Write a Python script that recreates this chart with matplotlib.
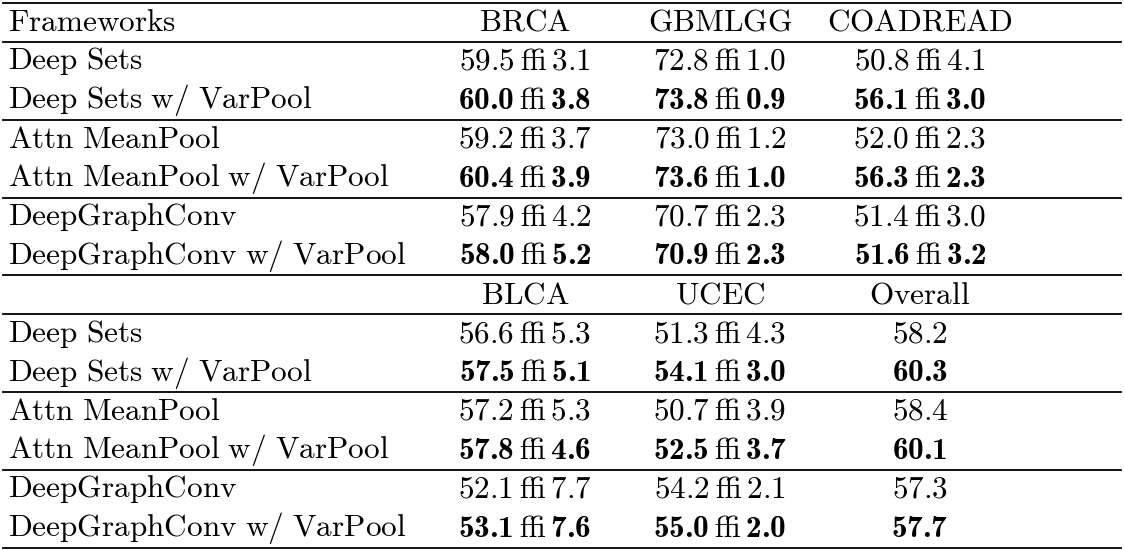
import matplotlib
matplotlib.use('Agg')
import matplotlib.pyplot as plt

plt.rcParams['mathtext.fontset'] = 'custom'
plt.rcParams['mathtext.rm'] = 'cmr10'
plt.rcParams['mathtext.bf'] = 'cmb10'
plt.rcParams['mathtext.it'] = 'cmmi10'
plt.rcParams['mathtext.fallback'] = 'cm'

# Table data
methods = ['Deep Sets', 'Deep Sets w/ VarPool',
           'Attn MeanPool', 'Attn MeanPool w/ VarPool',
           'DeepGraphConv', 'DeepGraphConv w/ VarPool']
cols_top = ['BRCA', 'GBMLGG', 'COADREAD']
cols_bot = ['BLCA', 'UCEC', 'Overall']
vals_top = [
    ['59.5 ± 3.1', '72.8 ± 1.0', '50.8 ± 4.1'],
    ['60.0 ± 3.8', '73.8 ± 0.9', '56.1 ± 3.0'],
    ['59.2 ± 3.7', '73.0 ± 1.2', '52.0 ± 2.3'],
    ['60.4 ± 3.9', '73.6 ± 1.0', '56.3 ± 2.3'],
    ['57.9 ± 4.2', '70.7 ± 2.3', '51.4 ± 3.0'],
    ['58.0 ± 5.2', '70.9 ± 2.3', '51.6 ± 3.2'],
]
vals_bot = [
    ['56.6 ± 5.3', '51.3 ± 4.3', '58.2'],
    ['57.5 ± 5.1', '54.1 ± 3.0', '60.3'],
    ['57.2 ± 5.3', '50.7 ± 3.9', '58.4'],
    ['57.8 ± 4.6', '52.5 ± 3.7', '60.1'],
    ['52.1 ± 7.7', '54.2 ± 2.1', '57.3'],
    ['53.1 ± 7.6', '55.0 ± 2.0', '57.7'],
]


def word(s):
    return '$\\mathrm{' + s.replace(' ', '\\ ') + '}$'


def cell(s, bold):
    parts = s.split(' ± ')
    if bold:
        body = ' \\pm '.join('\\mathbf{%s}' % p for p in parts)
    else:
        body = ' \\pm '.join('\\mathrm{%s}' % p for p in parts)
    return '$' + body + '$'


fig = plt.figure(figsize=(11.24, 5.5), dpi=100)
ax = fig.add_axes([0, 0, 1, 1])
ax.set_xlim(0, 1124)
ax.set_ylim(550, 0)
ax.axis('off')

fs = 22.5
xs = [525, 720, 920]
row_h = 38.9


def hline(y):
    ax.plot([3, 1121], [y, y], color='black', lw=1.3)


def block(y0, header, cols, vals):
    hline(y0)
    y = y0 + row_h / 2
    if header:
        ax.text(8, y, word(header), fontsize=fs, va='center', ha='left')
    for x, c in zip(xs, cols):
        ax.text(x, y, word(c), fontsize=fs, va='center', ha='center')
    y = y0 + row_h
    for i, (m, row) in enumerate(zip(methods, vals)):
        if i % 2 == 0:
            hline(y)
        yc = y + row_h / 2
        ax.text(8, yc, word(m), fontsize=fs, va='center', ha='left')
        for x, v in zip(xs, row):
            ax.text(x, yc, cell(v, i % 2 == 1), fontsize=fs, va='center', ha='center')
        y += row_h
    return y


y = block(3, 'Frameworks', cols_top, vals_top)
y = block(y, None, cols_bot, vals_bot)
hline(y)

fig.savefig('out.png', dpi=100)
